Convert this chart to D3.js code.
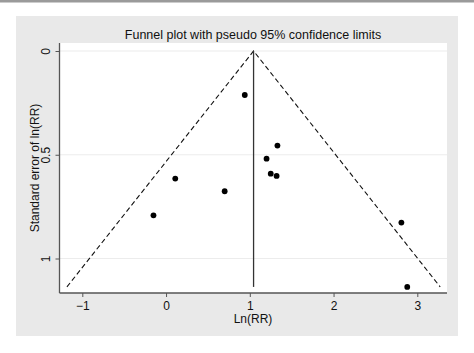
<!DOCTYPE html>
<html>
<head>
<meta charset="utf-8">
<script src="https://cdn.jsdelivr.net/npm/d3@7"></script>
<style>
  body { margin: 0; background: #fff; }
  text { font-family: "Liberation Sans", Arial, sans-serif; fill: #111; }
</style>
</head>
<body>
<svg id="chart" width="474" height="353"></svg>
<script>
"use strict";

// study estimates: ln(RR) and its standard error
var lnRR = [0.94, 1.33, 1.20, 1.25, 1.32, 0.11, 0.70, -0.15, 2.81, 2.88];
var seLnRR = [0.212, 0.456, 0.519, 0.591, 0.602, 0.615, 0.676, 0.792, 0.827, 1.137];
var pooled = 1.045;
var seMax = 1.137;
var xTicks = [-1, 0, 1, 2, 3];
var yTicks = [0, 0.5, 1];

var svg = d3.select('#chart');

// outer frame
svg.append('rect').attr('x',0).attr('y',0).attr('width',474).attr('height',2.5).attr('fill','#9a9a9a');
svg.append('rect').attr('x',16).attr('y',16).attr('width',442).attr('height',320).attr('fill','#e9e9e9');

var x = d3.scaleLinear().domain([-1, 3]).range([82.3, 417.3]);
var y = d3.scaleLinear().domain([0, 1]).range([51, 258.5]);

var pLeft = 59.5, pRight = 447, pTop = 43, pBottom = 293;

svg.append('rect')
	.attr('x',pLeft).attr('y',pTop)
	.attr('width',pRight-pLeft).attr('height',pBottom-pTop)
	.attr('fill','#fff');

// gridlines
svg.selectAll('.grid').data(yTicks).enter().append('line')
	.attr('class','grid')
	.attr('x1',pLeft).attr('x2',pRight)
	.attr('y1',function(d){ return y(d); }).attr('y2',function(d){ return y(d); })
	.attr('stroke','#ececec').attr('stroke-width',1.2);

// pseudo 95% limits
var lo = pooled - 1.96*seMax, hi = pooled + 1.96*seMax;
var funnel = [[lo, seMax], [pooled, 0], [hi, seMax]];
svg.append('path')
	.attr('d', d3.line().x(function(d){ return x(d[0]); }).y(function(d){ return y(d[1]); })(funnel))
	.attr('fill','none').attr('stroke','#111').attr('stroke-width',1.1)
	.attr('stroke-dasharray','5,3');

svg.append('line')
	.attr('x1',x(pooled)).attr('x2',x(pooled))
	.attr('y1',y(0)).attr('y2',y(seMax))
	.attr('stroke','#333').attr('stroke-width',1.3);

// points
svg.selectAll('.pt').data(lnRR).enter().append('circle')
	.attr('class','pt')
	.attr('cx',function(d){ return x(d); })
	.attr('cy',function(d,i){ return y(seLnRR[i]); })
	.attr('r',2.9).attr('fill','#000');

// axes
var xAxis = svg.append('g').attr('transform','translate(0,'+pBottom+')')
	.call(d3.axisBottom(x).tickValues(xTicks).tickSize(4).tickPadding(4).tickFormat(function(d){ return d < 0 ? '\u2212'+Math.abs(d) : d; }));
xAxis.select('.domain').attr('d','M'+pLeft+',0H'+pRight).attr('stroke','#555').attr('stroke-width',1.3);
xAxis.selectAll('.tick line').attr('stroke','#555');
xAxis.selectAll('text').style('font-size','12px').attr('fill','#111');

var yAxis = svg.append('g').attr('transform','translate('+pLeft+',0)')
	.call(d3.axisLeft(y).tickValues(yTicks).tickSize(4).tickFormat(d3.format('')));
yAxis.select('.domain').attr('d','M0,'+pTop+'V'+pBottom).attr('stroke','#555').attr('stroke-width',1.3);
yAxis.selectAll('.tick line').attr('stroke','#555');
yAxis.selectAll('text')
	.style('font-size','12px').attr('fill','#111')
	.attr('x',0).attr('dy',0)
	.attr('text-anchor','middle')
	.attr('transform','translate(-10,0) rotate(-90)');

// titles
svg.append('text').attr('x',253).attr('y',39).attr('text-anchor','middle')
	.style('font-size','12.5px').text('Funnel plot with pseudo 95% confidence limits');
svg.append('text').attr('x',253).attr('y',323).attr('text-anchor','middle')
	.style('font-size','12px').text('Ln(RR)');
svg.append('text').attr('transform','translate(39,168) rotate(-90)').attr('text-anchor','middle')
	.style('font-size','12px').text('Standard error of ln(RR)');
</script>
</body>
</html>
